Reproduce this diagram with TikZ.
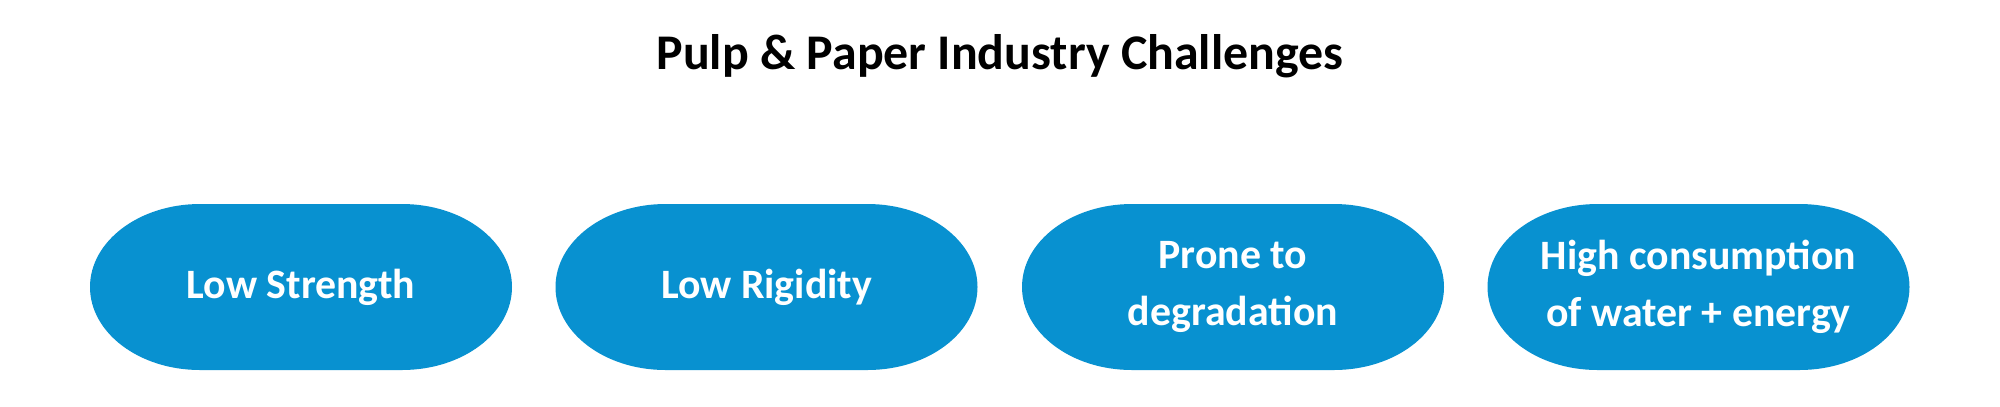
\documentclass[tikz,border=0pt]{standalone}
\usepackage{fontspec}
\setmainfont{Carlito}
\usepackage{tikz}
\usetikzlibrary{positioning}
\definecolor{pillblue}{RGB}{8,145,208}
\tikzstyle{pill} = [rectangle, text=white, minimum width=4.22cm, minimum height=1.66cm, align=center, font=\bfseries\fontsize{11.9}{16.3}\selectfont, inner sep=0pt,
  path picture={\fill[pillblue] ([xshift=1.1cm]path picture bounding box.north west) -- ([xshift=-1.1cm]path picture bounding box.north east) arc[start angle=90,end angle=-90,x radius=1.1cm,y radius=0.83cm] -- ([xshift=1.1cm]path picture bounding box.south west) arc[start angle=270,end angle=90,x radius=1.1cm,y radius=0.83cm] -- cycle;}]

\begin{document}
\begin{tikzpicture}

\useasboundingbox (0,0) rectangle (20,4.06);

% Title
\node[font=\bfseries\fontsize{14.2}{17}\selectfont] (title) at (10,3.5) {Pulp \& Paper Industry Challenges};

% Nodes
\node[pill] (strength) at (3.01,1.19) {Low Strength};
\node[pill] (rigidity) at (7.665,1.19) {Low Rigidity};
\node[pill] (degrade) at (12.33,1.19) {Prone to\\degradation};
\node[pill] (consume) at (16.985,1.19) {High consumption\\of water + energy};

\end{tikzpicture}
\end{document}
